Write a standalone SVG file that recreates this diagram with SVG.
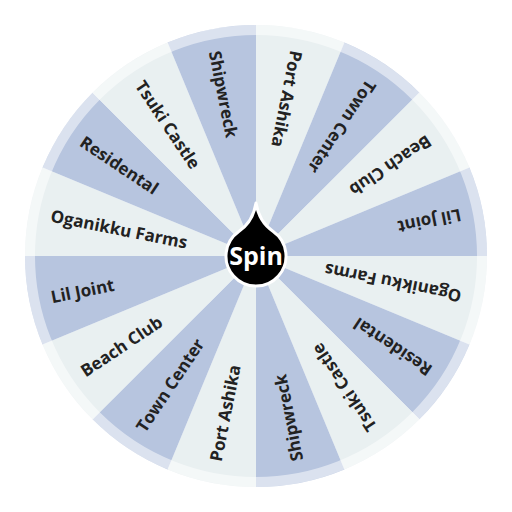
<svg xmlns="http://www.w3.org/2000/svg" width="512" height="512" viewBox="0 0 512 512">
<style>
.b{fill:#b7c5df}
.l{fill:#e9f0f1}
.t{font-family:"Open Sans","Noto Sans",sans-serif;font-weight:bold;font-size:17px;fill:#222222}
</style>
<defs>
<path id="w" d="M0,0 L-226.56,-45.07 A231,231 0 0 0 -226.56,45.07 Z"/>
</defs>
<rect width="512" height="512" fill="#ffffff"/>
<g transform="translate(256,256)">
<g id="seg1" transform="rotate(11.25)"><use href="#w" class="l"/><text class="t" x="-209" y="0" dominant-baseline="central">Oganikku Farms</text></g>
<g id="seg2" transform="rotate(33.75)"><use href="#w" class="b"/><text class="t" x="-209" y="0" dominant-baseline="central">Residental</text></g>
<g id="seg3" transform="rotate(56.25)"><use href="#w" class="l"/><text class="t" x="-209" y="0" dominant-baseline="central">Tsuki Castle</text></g>
<g id="seg4" transform="rotate(78.75)"><use href="#w" class="b"/><text class="t" x="-209" y="0" dominant-baseline="central">Shipwreck</text></g>
<g id="seg5" transform="rotate(101.25)"><use href="#w" class="l"/><text class="t" x="-209" y="0" dominant-baseline="central">Port Ashika</text></g>
<g id="seg6" transform="rotate(123.75)"><use href="#w" class="b"/><text class="t" x="-209" y="0" dominant-baseline="central">Town Center</text></g>
<g id="seg7" transform="rotate(146.25)"><use href="#w" class="l"/><text class="t" x="-209" y="0" dominant-baseline="central">Beach Club</text></g>
<g id="seg8" transform="rotate(168.75)"><use href="#w" class="b"/><text class="t" x="-209" y="0" dominant-baseline="central">Lil Joint</text></g>
<g id="seg9" transform="rotate(191.25)"><use href="#w" class="l"/><text class="t" x="-209" y="0" dominant-baseline="central">Oganikku Farms</text></g>
<g id="seg10" transform="rotate(213.75)"><use href="#w" class="b"/><text class="t" x="-209" y="0" dominant-baseline="central">Residental</text></g>
<g id="seg11" transform="rotate(236.25)"><use href="#w" class="l"/><text class="t" x="-209" y="0" dominant-baseline="central">Tsuki Castle</text></g>
<g id="seg12" transform="rotate(258.75)"><use href="#w" class="b"/><text class="t" x="-209" y="0" dominant-baseline="central">Shipwreck</text></g>
<g id="seg13" transform="rotate(281.25)"><use href="#w" class="l"/><text class="t" x="-209" y="0" dominant-baseline="central">Port Ashika</text></g>
<g id="seg14" transform="rotate(303.75)"><use href="#w" class="b"/><text class="t" x="-209" y="0" dominant-baseline="central">Town Center</text></g>
<g id="seg15" transform="rotate(326.25)"><use href="#w" class="l"/><text class="t" x="-209" y="0" dominant-baseline="central">Beach Club</text></g>
<g id="seg16" transform="rotate(348.75)"><use href="#w" class="b"/><text class="t" x="-209" y="0" dominant-baseline="central">Lil Joint</text></g>
</g>
<circle id="rim" cx="256" cy="256" r="226" fill="none" stroke="#ffffff" stroke-opacity="0.5" stroke-width="10"/>
<g id="spin">
<path d="M256,203 Q259,222 273.2,231.4 A30,30 0 1 1 238.8,231.4 Q253,222 256,203 Z" fill="#000000" stroke="#ffffff" stroke-width="3" stroke-linejoin="round"/>
<text x="256" y="265" text-anchor="middle" font-family="'Open Sans','Noto Sans',sans-serif" font-weight="bold" font-size="25" fill="#ffffff">Spin</text>
</g>
</svg>
